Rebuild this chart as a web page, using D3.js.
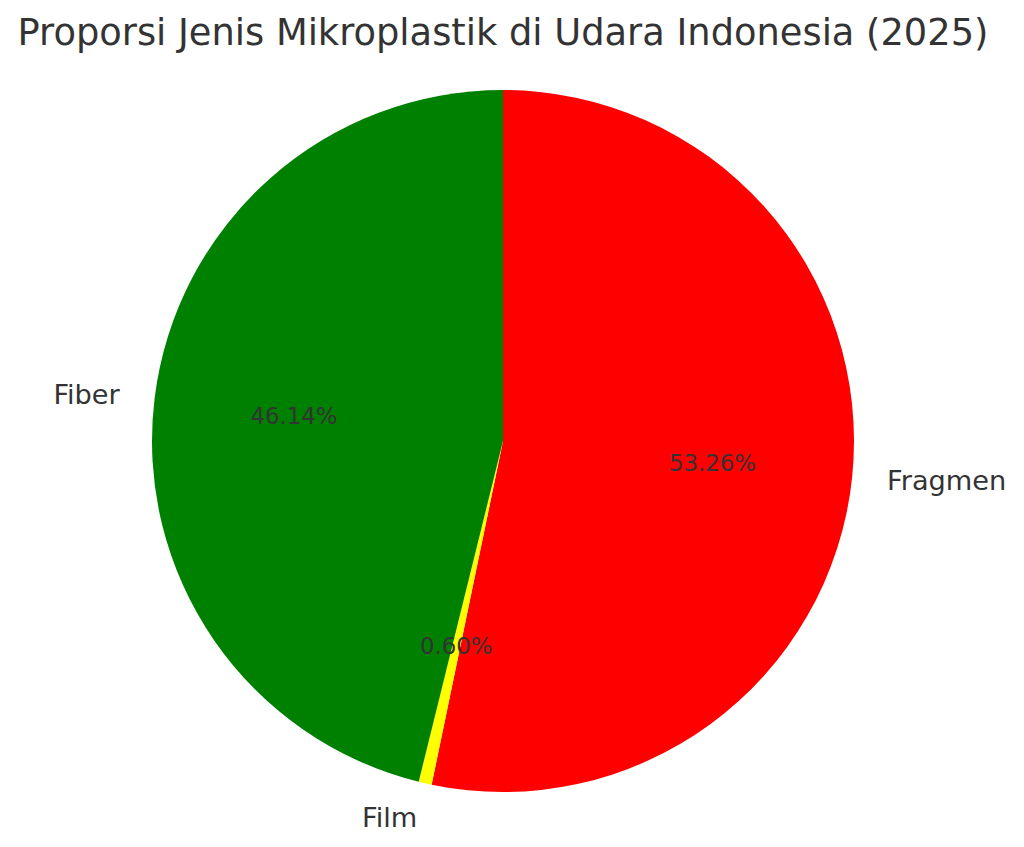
<!DOCTYPE html>
<html>
<head>
<meta charset="utf-8">
<script src="https://cdn.jsdelivr.net/npm/d3@7"></script>
<style>
  html, body { margin: 0; padding: 0; background: #ffffff; }
  svg { display: block; font-family: "DejaVu Sans", sans-serif; }
</style>
</head>
<body>
<div id="chart"></div>
<script>
const categories = ['Fragmen', 'Film', 'Fiber'];
const shares = [53.26, 0.60, 46.14];
const sliceColors = ['#ff0000', '#ffff00', '#008000'];

const width = 1024;
const height = 847;
const cx = 503;
const cy = 441;
const radius = 351;

const svg = d3.select('#chart')
  .append('svg')
  .attr('width', width)
  .attr('height', height);

svg.append('text')
  .attr('x', cx)
  .attr('y', 45)
  .attr('text-anchor', 'middle')
  .attr('fill', '#333333')
  .attr('font-size', 36.8)
  .text('Proporsi Jenis Mikroplastik di Udara Indonesia (2025)');

const data = categories.map((name, i) => ({ name, value: shares[i], color: sliceColors[i] }));

const pie = d3.pie().sort(null).value((d) => d.value);
const arc = d3.arc().innerRadius(0).outerRadius(radius);
const arcs = pie(data);

const g = svg.append('g').attr('transform', `translate(${cx},${cy})`);

g.selectAll('path.slice')
  .data(arcs)
  .join('path')
  .attr('class', 'slice')
  .attr('d', arc)
  .attr('fill', (d) => d.data.color);

// position on a ray through the slice middle, angle 0 at top, clockwise
function polar(d, k) {
  const a = (d.startAngle + d.endAngle) / 2;
  return [k * radius * Math.sin(a), -k * radius * Math.cos(a)];
}

g.selectAll('text.label')
  .data(arcs)
  .join('text')
  .attr('class', 'label')
  .attr('x', (d) => polar(d, 1.1)[0])
  .attr('y', (d) => polar(d, 1.1)[1])
  .attr('dy', '0.35em')
  .attr('text-anchor', (d) => (polar(d, 1.1)[0] >= 0 ? 'start' : 'end'))
  .attr('fill', '#333333')
  .attr('font-size', 27.2)
  .text((d) => d.data.name);

g.selectAll('text.pct')
  .data(arcs)
  .join('text')
  .attr('class', 'pct')
  .attr('x', (d) => polar(d, 0.6)[0])
  .attr('y', (d) => polar(d, 0.6)[1])
  .attr('dy', '0.35em')
  .attr('text-anchor', 'middle')
  .attr('fill', '#333333')
  .attr('font-size', 22.8)
  .text((d) => d.data.value.toFixed(2) + '%');
</script>
</body>
</html>
